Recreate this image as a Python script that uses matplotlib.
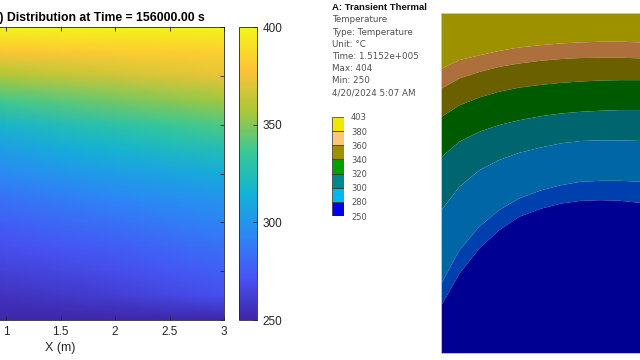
import numpy as np
import matplotlib
matplotlib.use("Agg")
import matplotlib.pyplot as plt
from matplotlib.colors import LinearSegmentedColormap

# ---- left panel: temperature field (deg C), rows from y=0 (bottom) to y=3 (top)
x_pts = [0, 0.5, 1, 1.5, 2, 2.5, 3]
y_pts = [0, 0.25, 0.5, 0.75, 1.0, 1.25, 1.5, 1.75, 2.0, 2.25, 2.5, 2.75, 3.0]
temp_rows = [
    [250, 250, 250, 250, 250, 250, 250],
    [255, 256, 257, 259, 262, 266, 270],
    [260, 262, 264, 266, 269, 273, 277],
    [265, 268, 270, 273, 276, 280, 284],
    [272, 274, 277, 281, 284, 288, 292],
    [279, 282, 285, 289, 293, 297, 300],
    [287, 291, 295, 300, 304, 308, 312],
    [297, 301, 305, 311, 316, 321, 325],
    [310, 314, 318, 324, 330, 335, 340],
    [328, 333, 338, 342, 347, 351, 355],
    [350, 354, 358, 362, 366, 369, 372],
    [372, 376, 380, 381, 382, 383, 384],
    [400, 400, 400, 400, 400, 400, 400],
]
x_ticks = [0, 0.5, 1, 1.5, 2, 2.5, 3]
x_tick_labels = ["0", "0.5", "1", "1.5", "2", "2.5", "3"]
cbar_ticks = [250, 300, 350, 400]

# ---- right panel: isotherm depths (0 = top, 1 = bottom) across the width
band_x = [0, 0.09, 0.19, 0.29, 0.39, 0.50, 0.60, 0.70, 0.80, 0.90, 1.0]
band_edges = [
    [0.162, 0.137, 0.123, 0.110, 0.100, 0.093, 0.088, 0.085, 0.083, 0.083, 0.085],
    [0.221, 0.191, 0.172, 0.157, 0.147, 0.139, 0.134, 0.131, 0.130, 0.130, 0.132],
    [0.304, 0.270, 0.247, 0.230, 0.218, 0.210, 0.204, 0.200, 0.197, 0.196, 0.196],
    [0.422, 0.377, 0.348, 0.328, 0.314, 0.302, 0.294, 0.289, 0.286, 0.284, 0.284],
    [0.578, 0.510, 0.461, 0.431, 0.410, 0.394, 0.382, 0.375, 0.373, 0.373, 0.375],
    [0.794, 0.696, 0.627, 0.578, 0.544, 0.520, 0.505, 0.495, 0.492, 0.492, 0.495],
    [0.858, 0.765, 0.691, 0.637, 0.598, 0.574, 0.559, 0.551, 0.549, 0.551, 0.557],
]
band_colors = ["#9e9100", "#ad6f3c", "#6a6000", "#005a00", "#00656e",
               "#0066a6", "#0040ae", "#000092"]

legend_labels = ["250", "280", "300", "320", "340", "360", "380", "403"]
legend_colors = ["#0000f0", "#00b8f0", "#008890", "#00a000", "#a09000",
                 "#f8c878", "#f0e800"]
info_lines = ["Temperature", "Type: Temperature", "Unit: °C",
              "Time: 1.5152e+005", "Max: 404", "Min: 250",
              "4/20/2024 5:07 AM"]

parula = LinearSegmentedColormap.from_list("parula", [
    "#3e26a8", "#4852f4", "#2d87f7", "#12b1d6",
    "#37c897", "#abc739", "#fec338", "#f3f518"])

plt.rcParams["font.family"] = ["Liberation Sans", "DejaVu Sans"]

W, H = 640, 360
fig = plt.figure(figsize=(6.4, 3.6), dpi=100)

# left heat map
ax = fig.add_axes([-103 / W, 40 / H, 327 / W, 293 / H])
mesh = ax.pcolormesh(x_pts, y_pts, np.array(temp_rows), cmap=parula,
                     vmin=250, vmax=400, shading="gouraud")
ax.set_xlim(0, 3)
ax.set_ylim(0, 3)
ax.set_xticks(x_ticks)
ax.set_xticklabels(x_tick_labels)
ax.set_yticks([0, 0.5, 1, 1.5, 2, 2.5, 3])
ax.tick_params(direction="in", top=True, right=True, length=3,
               labelsize=8.5, colors="#262626", width=0.6, pad=4)
for s in ax.spines.values():
    s.set_color("#262626")
    s.set_linewidth(0.6)
ax.set_xlabel("X (m)", fontsize=9, color="#262626", labelpad=3)
ax.set_ylabel("Y (m)", fontsize=9, color="#262626")
fig.text(205 / W, 1 - 21 / H,
         "Temperature (°C) Distribution at Time = 156000.00 s",
         fontweight="bold", fontsize=8.8, ha="right", va="baseline")

cax = fig.add_axes([239 / W, 40 / H, 18 / W, 293 / H])
cb = fig.colorbar(mesh, cax=cax, ticks=cbar_ticks)
cb.ax.tick_params(direction="in", length=3, labelsize=8.5, colors="#262626",
                  width=0.6, pad=4)
cb.outline.set_edgecolor("#262626")
cb.outline.set_linewidth(0.6)

# right contour plot
rax = fig.add_axes([441 / W, 7 / H, 199 / W, 340 / H])
edges = [[0] * len(band_x)] + band_edges + [[1] * len(band_x)]
for i, c in enumerate(band_colors):
    rax.fill_between(band_x, edges[i], edges[i + 1], color=c, lw=0)
rax.set_xlim(0, 1)
rax.set_ylim(1, 0)
rax.set_xticks([])
rax.set_yticks([])
for s in rax.spines.values():
    s.set_color("#c8c8b8")
    s.set_linewidth(0.6)

# info block
fig.text(332 / W, 1 - 8 / H, "A: Transient Thermal", fontsize=6.8,
         fontweight="bold", va="center", ha="left", color="#101010")
for k, line in enumerate(info_lines):
    fig.text(332 / W, 1 - (20 + 12.1 * k) / H, line, fontsize=6.3,
             va="center", ha="left", color="#505050", family="DejaVu Sans")

lax = fig.add_axes([332 / W, 144 / H, 12 / W, 99 / H])
for i, c in enumerate(legend_colors):
    lax.bar(0.5, 1, bottom=i, width=1, color=c, edgecolor="#303030", lw=0.5)
lax.set_xlim(0, 1)
lax.set_ylim(0, len(legend_colors))
lax.set_xticks([])
lax.set_yticks(range(len(legend_labels)))
lax.set_yticklabels(legend_labels, family="DejaVu Sans")
lax.yaxis.tick_right()
lax.tick_params(length=0, pad=5, labelsize=6, colors="#505050")
for s in lax.spines.values():
    s.set_visible(False)

fig.savefig("out.png", dpi=100)
